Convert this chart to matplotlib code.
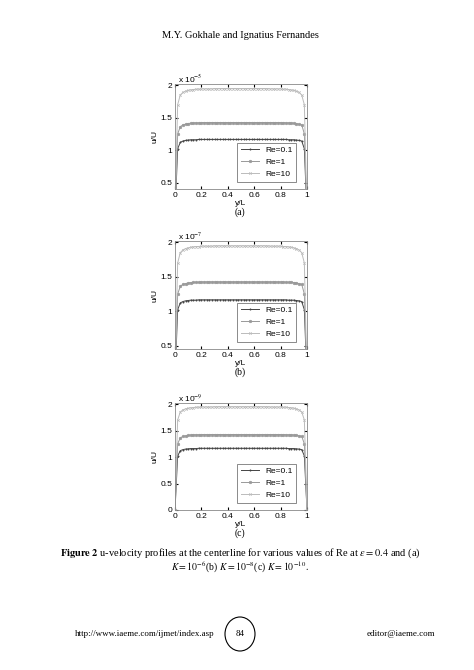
import numpy as np
import matplotlib.pyplot as plt
from matplotlib.patches import Ellipse

# u/U profiles across the channel (y/L from 0 to 1, step 0.02)
y_over_l = np.linspace(0, 1, 51)
re_01 = [0.0, 1.02, 1.12, 1.14, 1.15, 1.155, 1.16, 1.16, 1.16, 1.165, 1.165, 1.165, 1.165,
         1.165, 1.165, 1.165, 1.165, 1.165, 1.165, 1.165, 1.165, 1.165, 1.165, 1.165, 1.165,
         1.165, 1.165, 1.165, 1.165, 1.165, 1.165, 1.165, 1.165, 1.165, 1.165, 1.165, 1.165,
         1.165, 1.165, 1.165, 1.165, 1.165, 1.165, 1.16, 1.16, 1.16, 1.155, 1.15, 1.14, 1.02, 0.0]
re_1 = [0.0, 1.25, 1.36, 1.39, 1.40, 1.41, 1.415, 1.42, 1.42, 1.42, 1.425, 1.425, 1.425,
        1.425, 1.425, 1.425, 1.425, 1.425, 1.425, 1.425, 1.425, 1.425, 1.425, 1.425, 1.425,
        1.425, 1.425, 1.425, 1.425, 1.425, 1.425, 1.425, 1.425, 1.425, 1.425, 1.425, 1.425,
        1.425, 1.425, 1.425, 1.425, 1.425, 1.42, 1.42, 1.42, 1.415, 1.41, 1.40, 1.39, 1.25, 0.0]
re_10 = [0.0, 1.70, 1.85, 1.89, 1.91, 1.92, 1.93, 1.935, 1.94, 1.94, 1.945, 1.945, 1.945,
         1.945, 1.945, 1.95, 1.95, 1.95, 1.95, 1.95, 1.95, 1.95, 1.95, 1.95, 1.95,
         1.95, 1.95, 1.95, 1.95, 1.95, 1.95, 1.95, 1.95, 1.95, 1.95, 1.95, 1.945, 1.945,
         1.945, 1.945, 1.945, 1.94, 1.94, 1.935, 1.93, 1.92, 1.91, 1.89, 1.85, 1.70, 0.0]
series = [("Re=0.1", re_01), ("Re=1", re_1), ("Re=10", re_10)]
styles = [dict(color="#444444", marker="."), dict(color="#999999", marker="o"),
          dict(color="#bbbbbb", marker="x")]

panels = [("(a)", "-5", 0.4, [0.5, 1, 1.5, 2], ["0.5", "1", "1.5", "2"]),
          ("(b)", "-7", 0.45, [0.5, 1, 1.5, 2], ["0.5", "1", "1.5", "2"]),
          ("(c)", "-9", 0.0, [0, 0.5, 1, 1.5, 2], ["0", "0.5", "1", "1.5", "2"])]
# axes boxes in pixels: (top, bottom)
boxes = [(84, 189), (241, 349), (403, 510)]

W, H = 474, 670
plt.rcParams["font.family"] = "Liberation Sans"
plt.rcParams["mathtext.fontset"] = "stix"
fig = plt.figure(figsize=(W / 100, H / 100), dpi=100)

for (label, expo, ymin, yt, ytl), (top, bot) in zip(panels, boxes):
    ax = fig.add_axes([175 / W, 1 - bot / H, 132 / W, (bot - top) / H])
    for (name, vals), st in zip(series, styles):
        ax.plot(y_over_l, vals, lw=0.7, ms=1.8, mew=0.5, label=name, **st)
    ax.set_xlim(0, 1)
    ax.set_ylim(ymin, 2.02)
    ax.set_xticks([0, 0.2, 0.4, 0.6, 0.8, 1])
    ax.set_xticklabels(["0", "0.2", "0.4", "0.6", "0.8", "1"])
    ax.set_yticks(yt)
    ax.set_yticklabels(ytl)
    ax.tick_params(labelsize=6, length=2, direction="in", top=True, right=True, pad=2)
    for s in ax.spines.values():
        s.set_color("#888888")
        s.set_linewidth(0.6)
    ax.set_xlabel("y/L", fontsize=6, labelpad=1)
    ax.set_ylabel("u/U", fontsize=6, labelpad=1)
    ax.text(0.02, 1.01, r"x 10$^{%s}$" % expo, transform=ax.transAxes, fontsize=6)
    ax.legend(loc="lower right", fontsize=6, frameon=True, fancybox=False,
              edgecolor="#555555", borderpad=0.4, handlelength=2.2,
              bbox_to_anchor=(0.95, 0.03)).get_frame().set_linewidth(0.6)
    fig.text(240 / W, 1 - (bot + 26) / H, label, ha="center", fontsize=7,
             family="Liberation Serif")

serif = "Liberation Serif"
fig.text(240 / W, 1 - 36 / H, "M.Y. Gokhale and Ignatius Fernandes", ha="center",
         va="center", fontsize=7.5, family=serif)
fig.text(240 / W, 1 - 553 / H,
         r"$\mathbf{Figure\ 2}$ u-velocity profiles at the centerline for various values of Re at $\varepsilon=0.4$ and (a)",
         ha="center", va="center", fontsize=7.5, family=serif)
fig.text(240 / W, 1 - 567 / H,
         r"$K=10^{-6}$(b) $K=10^{-8}$(c) $K=10^{-10}$.",
         ha="center", va="center", fontsize=7, family=serif)
fig.text(75 / W, 1 - 634 / H, "http://www.iaeme.com/ijmet/index.asp", va="center",
         fontsize=6.5, family=serif)
fig.text(240 / W, 1 - 634 / H, "84", ha="center", va="center", fontsize=6.5, family=serif)
fig.patches.append(Ellipse((240 / W, 1 - 634 / H), 30 / W, 34 / H, fill=False,
                           lw=0.8, transform=fig.transFigure))
fig.text(435 / W, 1 - 634 / H, "editor@iaeme.com", ha="right", va="center",
         fontsize=6.5, family=serif)

fig.savefig("out.png", dpi=100)
